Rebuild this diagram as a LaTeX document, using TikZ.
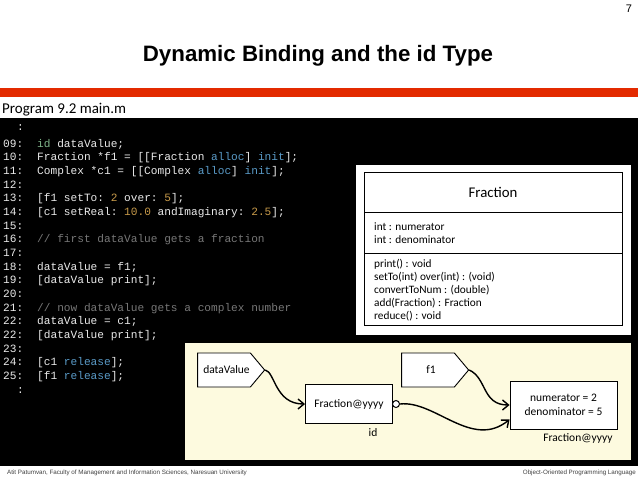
\documentclass[tikz,border=0pt]{standalone}
\usepackage{fontspec}
\setmainfont{Carlito}
\setmonofont{Liberation Mono}
\newfontfamily\headfont{Liberation Sans}
\usetikzlibrary{arrows.meta}
\usetikzlibrary{shapes.symbols}
\definecolor{barred}{HTML}{E32A00}
\definecolor{panelyellow}{HTML}{FDFADF}
\definecolor{kwblue}{HTML}{5A9BC8}
\definecolor{kwgreen}{HTML}{7FB58A}
\definecolor{numgold}{HTML}{C79A4A}
\definecolor{cmtgrey}{HTML}{777777}
\definecolor{codegrey}{HTML}{EAEAEA}
\newcommand{\kw}[1]{\textcolor{kwblue}{#1}}
\newcommand{\idw}[1]{\textcolor{kwgreen}{#1}}
\newcommand{\num}[1]{\textcolor{numgold}{#1}}
\newcommand{\cmt}[1]{\textcolor{cmtgrey}{#1}}
\begin{document}
\begin{tikzpicture}[x=1pt,y=-1pt]
  \tikzset{code/.style = {anchor=base west,inner sep=0pt,text=codegrey,font=\ttfamily\fontsize{11.15}{13}\selectfont}}
  \tikzset{label/.style = {inner sep=0pt,font=\fontsize{11.3}{13}\selectfont}}
  \tikzset{small/.style = {font=\fontsize{11.5}{13.5}\selectfont}}
  \tikzset{classbox/.style = {shape=rectangle,draw,line width=0.9pt,fill=white,minimum width=258pt,anchor=north west,inner sep=0pt}}
  \tikzset{objbox/.style = {shape=rectangle,draw,line width=0.9pt,fill=white,inner sep=0pt,align=center,small}}
  \tikzset{varbox/.style = {shape=signal,signal to=east,signal from=nowhere,signal pointer angle=100,draw,line width=0.9pt,fill=white,inner sep=0pt,minimum width=67pt,minimum height=34pt}}
  \tikzset{edge/.style = {-{Straight Barb[length=6pt,width=10pt]},line width=1.4pt}}

  \useasboundingbox (0,0) rectangle (638,479);
  \fill[white] (0,0) rectangle (638,479);
  \fill[barred] (0,88) rectangle (638,97);
  \fill[black] (0,118) rectangle (638,466);
  \fill[white] (356,165) rectangle (631,335);
  \fill[panelyellow] (185,343) rectangle (631,460);

  \node[inner sep=0pt,font=\headfont\fontsize{11}{12}\selectfont] (page) at (629,9) {7};
  \node[inner sep=0pt,font=\headfont\bfseries\fontsize{22.3}{24}\selectfont] (title) at (318,56) {Dynamic Binding and the id Type};
  \node[anchor=base west,inner sep=0pt,font=\fontsize{15}{16}\selectfont] (prog) at (2,113) {Program 9.2 main.m};

  % line numbers and code
  \node[code] (dotsA) at (17,130) {:};
  \foreach \row/\no/\txt in {
    0/09/{\idw{id} dataValue;},
    1/10/{Fraction *f1 = [[Fraction \kw{alloc}] \kw{init}];},
    2/11/{Complex *c1 = [[Complex \kw{alloc}] \kw{init}];},
    3/12/{},
    4/13/{[f1 setTo: \num{2} over: \num{5}];},
    5/14/{[c1 setReal: \num{10.0} andImaginary: \num{2.5}];},
    6/15/{},
    7/16/{\cmt{// first dataValue gets a fraction}},
    8/17/{},
    9/18/{dataValue = f1;},
    10/19/{[dataValue print];},
    11/20/{},
    12/21/{\cmt{// now dataValue gets a complex number}},
    13/22/{dataValue = c1;},
    14/22/{[dataValue print];},
    15/23/{},
    16/24/{[c1 \kw{release}];},
    17/25/{[f1 \kw{release}];}}
  {
    \node[code] (no\row) at (3,147+13.68*\row) {\no:};
    \node[code] (line\row) at (37,147+13.68*\row) {\txt};
  }
  \node[code] (dotsB) at (17,393) {:};

  % class box
  \node[classbox,minimum height=40pt] (cname) at (364,172) {};
  \node[inner sep=0pt,font=\fontsize{14.8}{16}\selectfont] (cnametxt) at (493,192) {Fraction};
  \node[classbox,minimum height=41pt] (cattr) at (364,212) {};
  \node[label,anchor=west,align=left] (cattrtxt) at (374,233.5) {int : numerator\\int : denominator};
  \node[classbox,minimum height=72pt] (cmeth) at (364,253) {};
  \node[label,anchor=west,align=left] (cmethtxt) at (374,290) {print() : void\\setTo(int) over(int) : (void)\\convertToNum : (double)\\add(Fraction) : Fraction\\reduce() : void};

  % objects
  \node[varbox] (dataValue) at (224,370) {};
  \node[label,small] (dataValuetxt) at (226.5,370) {dataValue};
  \node[varbox] (f1) at (428,370) {};
  \node[label,small] (f1txt) at (431,370) {f1};
  \node[objbox,minimum width=87pt,minimum height=39pt] (fracid) at (349,404) {Fraction@yyyy};
  \node[shape=circle,draw,line width=1pt,fill=white,inner sep=0pt,minimum size=7pt] (knob) at (396,404) {};
  \node[objbox,minimum width=107pt,minimum height=48pt] (fracobj) at (563.5,405) {numerator = 2\\denominator = 5};
  \node[label,small] (idtxt) at (373,433) {id};
  \node[label,small] (addr) at (578,438) {Fraction@yyyy};

  \draw[edge] (dataValue.east) .. controls (275,372) and (275,404) .. (fracid.west);
  \draw[edge] (f1.east) .. controls (487,378) and (482,405) .. (fracobj.west);
  \draw[edge] (knob.east) .. controls (435,400) and (472,450) .. (fracobj.195);

  \node[anchor=base west,inner sep=0pt,font=\headfont\fontsize{6.25}{7}\selectfont,text=black!75] (footl) at (7,474) {Atit Patumvan, Faculty of Management and Information Sciences, Naresuan University};
  \node[anchor=base east,inner sep=0pt,font=\headfont\fontsize{6.25}{7}\selectfont,text=black!75] (footr) at (636,474) {Object-Oriented Programming Language};
\end{tikzpicture}
\end{document}
